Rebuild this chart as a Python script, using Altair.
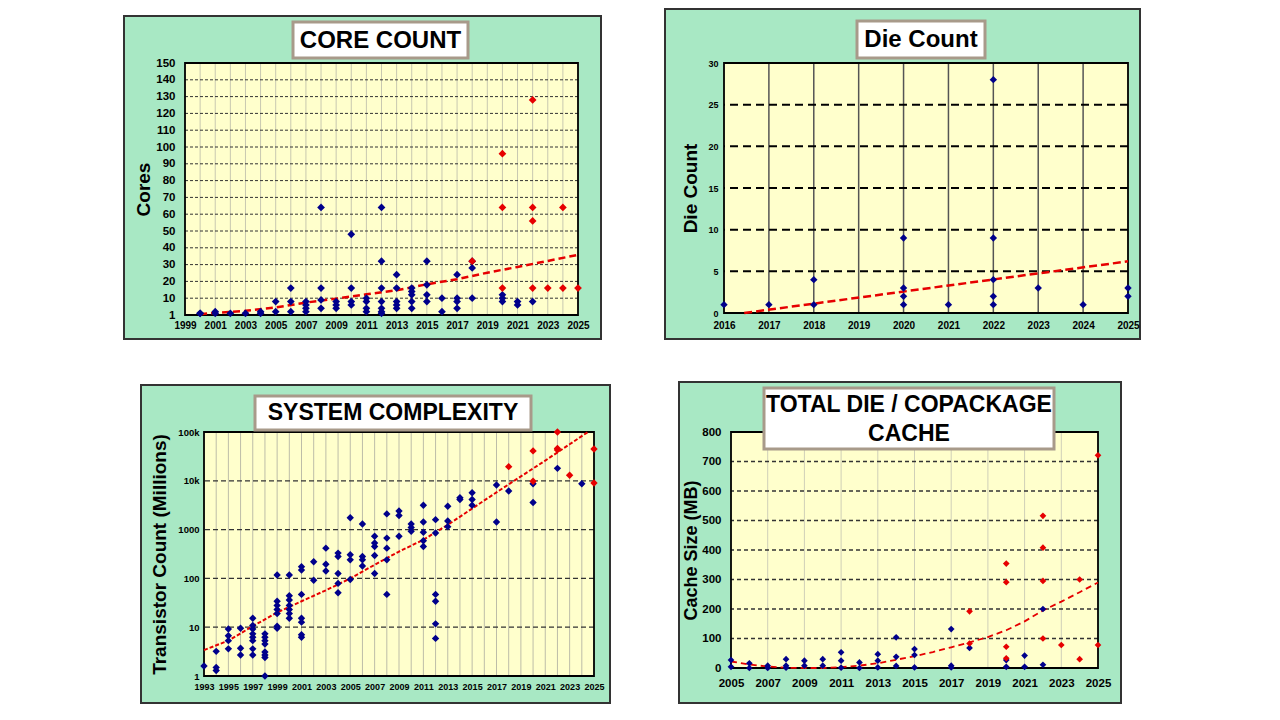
import altair as alt
import pandas as pd

GREEN = "#A8E8C4"
YELLOW = "#FFFFCC"
BLUE = "#00008B"
RED = "#E60000"
FONT = "Liberation Sans"

# ---------------- CORE COUNT ----------------
core_blue_year = [2000, 2000, 2001, 2001, 2002, 2003, 2004, 2004, 2005, 2005,
                  2006, 2006, 2006, 2007, 2007, 2007, 2007, 2008, 2008, 2008, 2008,
                  2009, 2009, 2009, 2010, 2010, 2010, 2010, 2011, 2011, 2011, 2011,
                  2012, 2012, 2012, 2012, 2012, 2012, 2012, 2013, 2013, 2013, 2013, 2013,
                  2014, 2014, 2014, 2014, 2014, 2015, 2015, 2015, 2015, 2016, 2016,
                  2017, 2017, 2017, 2017, 2018, 2018, 2018, 2020, 2020, 2020,
                  2021, 2021, 2022]
core_blue_val = [1, 1, 2, 1, 1, 1, 2, 1, 8, 2,
                 16, 8, 2, 8, 6, 4, 2, 64, 16, 9, 4,
                 8, 6, 4, 48, 16, 8, 6, 10, 8, 4, 2,
                 64, 32, 16, 8, 4, 2, 1, 24, 16, 8, 6, 4,
                 16, 14, 12, 8, 4, 32, 18, 12, 8, 10, 2,
                 24, 10, 8, 4, 32, 28, 10, 12, 10, 8,
                 8, 6, 8]
core_red_year = [2018, 2020, 2020, 2020, 2022, 2022, 2022, 2022, 2023, 2024, 2024, 2025]
core_red_val = [32, 96, 64, 16, 128, 64, 56, 16, 16, 64, 16, 16]
core_trend_year = [2000, 2001, 2003, 2005, 2007, 2009, 2011, 2013, 2015, 2017, 2019, 2021, 2023, 2025]
core_trend_val = [0.5, 1.2, 2.5, 4.5, 7.4, 9.7, 12.3, 14.7, 18.3, 21.3, 25.2, 28.6, 32.2, 35.8]
core_x_ticks = list(range(1999, 2026, 2))
core_y_ticks = list(range(0, 151, 10))
core_h_grid = list(range(10, 141, 10))
core_v_grid = list(range(2000, 2025))

# ---------------- DIE COUNT ----------------
die_year = [2016, 2017, 2018, 2018, 2020, 2020, 2020, 2020, 2021,
            2022, 2022, 2022, 2022, 2022, 2023, 2024, 2025, 2025]
die_val = [1, 1, 4, 1, 9, 3, 2, 1, 1, 28, 9, 4, 2, 1, 3, 1, 3, 2]
die_trend_year = [2016.45, 2025]
die_trend_val = [0, 6.2]
die_x_ticks = list(range(2016, 2026))
die_y_ticks = list(range(0, 31, 5))
die_h_grid = [5, 10, 15, 20, 25]
die_v_grid = list(range(2017, 2025))

# ---------------- SYSTEM COMPLEXITY ----------------
sys_blue_year = [1993, 1994, 1994, 1994, 1995, 1995, 1995, 1995, 1996, 1996, 1996,
                 1997, 1997, 1997, 1997, 1997, 1997, 1997, 1997,
                 1998, 1998, 1998, 1998, 1998, 1998, 1998, 1998,
                 1999, 1999, 1999, 1999, 1999, 1999, 1999,
                 2000, 2000, 2000, 2000, 2000, 2000, 2000,
                 2001, 2001, 2001, 2001, 2001, 2001, 2001,
                 2002, 2002, 2003, 2003, 2003, 2004, 2004, 2004, 2004, 2004,
                 2005, 2005, 2005, 2005, 2006, 2006, 2006, 2006,
                 2007, 2007, 2007, 2007, 2007, 2008, 2008, 2008, 2008, 2008,
                 2009, 2009, 2009, 2010, 2010, 2010, 2011, 2011, 2011, 2011, 2011,
                 2012, 2012, 2012, 2012, 2012, 2012, 2013, 2013, 2013, 2014, 2014,
                 2015, 2015, 2015, 2017, 2017, 2018, 2020, 2020, 2022, 2024]
sys_blue_val = [1.6, 3.2, 1.5, 1.3, 9.2, 6.7, 5.3, 3.6, 9.5, 3.7, 2.7,
                15.3, 10.8, 9.2, 7.3, 6.2, 5.3, 3.6, 2.7,
                7.3, 6.2, 5.3, 4.5, 3.1, 2.7, 2.4, 1.0,
                117, 34, 28, 23, 19, 10.5, 9.5,
                117, 44, 36, 28, 23, 19, 15.3,
                174, 148, 47, 15.3, 12.7, 7, 6.2,
                220, 92, 417, 195, 142, 330, 280, 126, 79, 51,
                1750, 305, 240, 95, 1300, 280, 240, 180,
                730, 530, 450, 295, 126, 2100, 670, 417, 240, 47,
                2400, 1950, 730, 1300, 1100, 920, 3150, 1430, 880, 590, 450,
                1600, 850, 47, 34, 11.7, 5.9, 3000, 1500, 1150, 4500, 4150,
                5700, 4150, 3150, 8200, 1430, 6200, 8700, 3600, 18000, 8700]
sys_red_year = [2018, 2020, 2020, 2022, 2022, 2022, 2023, 2025, 2025]
sys_red_val = [19500, 41000, 9800, 100000, 46000, 43000, 13000, 45000, 9000]
sys_trend_year = [1993, 1995, 1997, 1999, 2001, 2003, 2005, 2007, 2009, 2011, 2013,
                  2015, 2017, 2019, 2021, 2023, 2024.5]
sys_trend_val = [3.4, 5.3, 10.5, 20, 34, 57, 100, 190, 355, 620, 1250,
                 2700, 5800, 12300, 26000, 56000, 100000]
sys_x_ticks = list(range(1993, 2026, 2))
sys_y_ticks = [1, 10, 100, 1000, 10000, 100000]
sys_h_grid = [10, 100, 1000, 10000]
sys_v_grid = list(range(1994, 2025))

# ---------------- CACHE ----------------
cache_blue_year = [2005, 2005, 2006, 2006, 2007, 2007, 2008, 2008, 2008, 2009, 2009,
                   2010, 2010, 2011, 2011, 2011, 2012, 2012, 2013, 2013, 2013,
                   2014, 2014, 2014, 2015, 2015, 2015, 2017, 2017, 2017,
                   2018, 2020, 2020, 2021, 2021, 2022, 2022]
cache_blue_val = [27, 4, 16, 0, 8, 0, 30, 8, 1, 25, 8,
                  30, 8, 53, 25, 1, 19, 0, 47, 25, 2,
                  104, 38, 7, 64, 44, 2, 132, 8, 2,
                  68, 27, 4, 42, 4, 200, 11]
cache_red_year = [2018, 2018, 2020, 2020, 2020, 2020, 2022, 2022, 2022, 2022,
                  2023, 2024, 2024, 2025, 2025]
cache_red_val = [192, 83, 354, 291, 72, 33, 516, 408, 295, 100,
                 78, 300, 30, 721, 78]
cache_trend_year = list(range(2005, 2026))
cache_trend_val = [22, 12, 5, 1, 0, 0, 3, 8, 16, 28, 40, 54, 70, 87, 105,
                   128, 158, 195, 225, 257, 290]
cache_x_ticks = list(range(2005, 2026, 2))
cache_y_ticks = list(range(0, 801, 100))
cache_h_grid = list(range(100, 701, 100))
cache_v_grid = list(range(2007, 2024, 2))


ONE = alt.Data(values=[{"k": 1}])


def vrect(x1, x2, y1, y2, **kw):
    return alt.Chart(ONE).mark_rect(**kw).encode(
        x=alt.value(x1), x2=alt.value(x2), y=alt.value(y1), y2=alt.value(y2))


def panel(width, height, xdom, xticks, vgrid, vstyle, ydom, yticks, ytype,
          hgrid, hstyle, ytitle, yfonts, xfonts, pts, trend, tstyle, psize,
          green, tbox, tlines, tsize, ylabel_expr=None):
    xscale = alt.Scale(domain=xdom, nice=False, zero=False)
    yscale = alt.Scale(domain=ydom, nice=False, zero=False, type=ytype)
    xaxis = alt.Axis(values=xticks, format="d", title=None, grid=False, domain=False,
                     ticks=False, labelFont=FONT, labelFontSize=xfonts[0],
                     labelFontWeight="bold", labelColor="black", labelPadding=xfonts[1],
                     labelFlush=False, labelOverlap=False, zindex=1)
    yargs = dict(values=yticks, format="d", title=ytitle, grid=False, domain=False, ticks=False,
                 labelFont=FONT, labelFontSize=yfonts[0], labelFontWeight="bold",
                 labelColor="black", labelPadding=yfonts[1], labelOverlap=False,
                 labelFlush=False, titleFont=FONT, titleFontSize=yfonts[2],
                 titleFontWeight="bold", titleColor="black", titlePadding=yfonts[3],
                 zindex=1)
    if ylabel_expr:
        yargs["labelExpr"] = ylabel_expr
    yaxis = alt.Axis(**yargs)
    X = lambda f: alt.X(f, type="quantitative", scale=xscale, axis=xaxis)
    Y = lambda f: alt.Y(f, type="quantitative", scale=yscale, axis=yaxis)

    layers = []
    gl, gr, gt, gb = green
    layers.append(vrect(gl, width + gr, gt, height + gb, fill=GREEN, stroke="#333333", strokeWidth=2))
    layers.append(vrect(0, width, 0, height, fill=YELLOW))
    layers.append(alt.Chart(pd.DataFrame({"year": vgrid})).mark_rule(**vstyle).encode(x=X("year")))
    layers.append(alt.Chart(pd.DataFrame({"v": hgrid})).mark_rule(**hstyle).encode(y=Y("v")))
    layers.append(vrect(0, width, 0, height, fillOpacity=0, stroke="black", strokeWidth=1.8))
    layers.append(alt.Chart(pd.DataFrame({"year": trend[0], "v": trend[1]}))
                  .mark_line(color=RED, **tstyle).encode(x=X("year"), y=Y("v")))
    for yrs, vals, col in pts:
        layers.append(alt.Chart(pd.DataFrame({"year": yrs, "v": vals}))
                      .mark_point(shape="diamond", filled=True, opacity=1, color=col, size=psize)
                      .encode(x=X("year"), y=Y("v")))
    bx1, bx2, by1, by2 = tbox
    layers.append(vrect(bx1, bx2, by1, by2, fill="white", stroke="#A89A8A", strokeWidth=3))
    cx = (bx1 + bx2) / 2
    for text, ty in tlines:
        layers.append(alt.Chart(ONE).mark_text(font=FONT, fontSize=tsize, fontWeight="bold",
                                               color="black", baseline="middle", align="center")
                      .encode(x=alt.value(cx), y=alt.value(ty), text=alt.value(text)))
    return alt.layer(*layers).properties(width=width, height=height)


p1 = panel(393, 252, [1999, 2025], core_x_ticks, core_v_grid,
           dict(color="#C8C8B0", strokeWidth=1), [0, 150], core_y_ticks, "linear",
           core_h_grid, dict(color="#333333", strokeWidth=1, strokeDash=[3, 2]),
           "Cores", (11.5, 10, 19, 2), (10, 5),
           [(core_blue_year, core_blue_val, BLUE), (core_red_year, core_red_val, RED)],
           (core_trend_year, core_trend_val), dict(strokeWidth=2.5, strokeDash=[7, 4]), 60,
           (-61, 23, -47, 24), (108, 283, -41, -5), [("CORE COUNT", -22)], 24,
           ylabel_expr="datum.value == 0 ? '1' : datum.label")

p2 = panel(404, 250, [2016, 2025], die_x_ticks, die_v_grid,
           dict(color="#555555", strokeWidth=1.5), [0, 30], die_y_ticks, "linear",
           die_h_grid, dict(color="black", strokeWidth=2, strokeDash=[8, 5]),
           "Die Count", (9, 6, 19, 7), (10, 7),
           [(die_year, die_val, BLUE)],
           (die_trend_year, die_trend_val), dict(strokeWidth=2.5, strokeDash=[8, 4]), 55,
           (-59, 12, -54, 26), (133, 261, -42, -5), [("Die Count", -23)], 24)

p3 = panel(390, 244, [1993, 2025], sys_x_ticks, sys_v_grid,
           dict(color="#BDBDA8", strokeWidth=1), [1, 100000], sys_y_ticks, "log",
           sys_h_grid, dict(color="#333333", strokeWidth=1.3, strokeDash=[5, 3]),
           "Transistor Count (Millions)", (9.5, 5, 19, 8), (9, 6),
           [(sys_blue_year, sys_blue_val, BLUE), (sys_red_year, sys_red_val, RED)],
           (sys_trend_year, sys_trend_val), dict(strokeWidth=2, strokeDash=[4, 2]), 55,
           (-63, 16, -47, 27), (51, 327, -36, -2), [("SYSTEM COMPLEXITY", -19)], 23,
           ylabel_expr="datum.value >= 10000 ? (datum.value / 1000) + 'k' : datum.label")

p4 = panel(367, 236, [2005, 2025], cache_x_ticks, cache_v_grid,
           dict(color="#CFCFB8", strokeWidth=1), [0, 800], cache_y_ticks, "linear",
           cache_h_grid, dict(color="#333333", strokeWidth=1.5, strokeDash=[4, 3]),
           "Cache Size (MB)", (11.5, 10, 18, 1), (11.5, 9),
           [(cache_blue_year, cache_blue_val, BLUE), (cache_red_year, cache_red_val, RED)],
           (cache_trend_year, cache_trend_val), dict(strokeWidth=1.8, strokeDash=[6, 4]), 45,
           (-52, 23, -50, 35), (33, 323, -44, 17),
           [("TOTAL DIE / COPACKAGE", -27), ("CACHE", 2)], 23)

row1 = alt.hconcat(p1, p2, spacing=62)
row2 = alt.hconcat(p3, p4, spacing=67)
chart = alt.vconcat(row1, row2, spacing=41, center=True).properties(
    padding={"left": 123, "top": 8, "right": 5, "bottom": 5},
    background="white",
).configure_view(strokeWidth=0)

chart.save("out.html", embed_options={"renderer": "svg", "actions": False})
